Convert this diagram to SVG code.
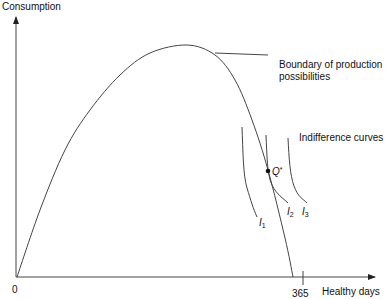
<svg xmlns="http://www.w3.org/2000/svg" width="386" height="299" viewBox="0 0 386 299">
<defs>
<style>
.ln{fill:none;stroke:#444;stroke-width:1}
.t{font-family:"Liberation Sans",Arial,sans-serif;font-size:10px;fill:#111}
.it{font-style:italic}
</style>
<marker id="ah" markerWidth="8" markerHeight="6" refX="7" refY="3" orient="auto" markerUnits="userSpaceOnUse">
<path d="M0,0 L8,3 L0,6 Z" fill="#222"/>
</marker>
</defs>
<rect width="386" height="299" fill="#fff"/>
<g id="connectors">
<line class="ln" x1="16" y1="277" x2="16" y2="17" marker-end="url(#ah)"/>
<line class="ln" x1="16" y1="277" x2="375" y2="277" marker-end="url(#ah)"/>
<line class="ln" x1="303" y1="271" x2="303" y2="285"/>
<line class="ln" x1="215" y1="53" x2="268" y2="55"/>
</g>
<g id="ppf">
<path class="ln" d="M17,277 C20.8,265.8 32,231.2 40,210 C48,188.8 56.7,166.7 65,150 C73.3,133.3 80.8,122.5 90,110 C99.2,97.5 110,84.5 120,75 C130,65.5 138.8,58 150,53 C161.2,48 176.2,44.7 187,45 C197.8,45.3 207,49.2 215,55 C223,60.8 228.8,69.2 235,80 C241.2,90.8 246.5,105 252,120 C257.5,135 262.5,150.3 268,170 C273.5,189.7 280.8,220.2 285,238 C289.2,255.8 291.7,270.5 293,277"/>
</g>
<g id="I1">
<path class="ln" d="M242,127 C243,150 243,175 247,188 S253,208 257,217"/>
<text class="t" x="259" y="226"><tspan class="it">I</tspan><tspan font-size="7" dy="2">1</tspan></text>
</g>
<g id="I2">
<path class="ln" d="M266,135 C267,155 267,175 272,185 S283,198 288,203"/>
<text class="t" x="287" y="215"><tspan class="it">I</tspan><tspan font-size="7" dy="2">2</tspan></text>
</g>
<g id="I3">
<path class="ln" d="M288,138 C289,158 290,175 294,186 S302,198 307,203"/>
<text class="t" x="302" y="215"><tspan class="it">I</tspan><tspan font-size="7" dy="2">3</tspan></text>
</g>
<g id="Q">
<circle cx="268" cy="171" r="2.3" fill="#111"/>
<text class="t" x="272" y="175"><tspan class="it">Q</tspan><tspan font-size="7" dy="-3">*</tspan></text>
</g>
<g id="labels">
<text class="t" x="2" y="10">Consumption</text>
<text class="t" x="279" y="68" font-size="10.3">Boundary of production</text>
<text class="t" x="279" y="80" font-size="10.3">possibilities</text>
<text class="t" x="299" y="141">Indifference curves</text>
<text class="t" x="322" y="295">Healthy days</text>
<text class="t" x="292" y="297">365</text>
<text class="t" x="12" y="293">0</text>
</g>
</svg>
